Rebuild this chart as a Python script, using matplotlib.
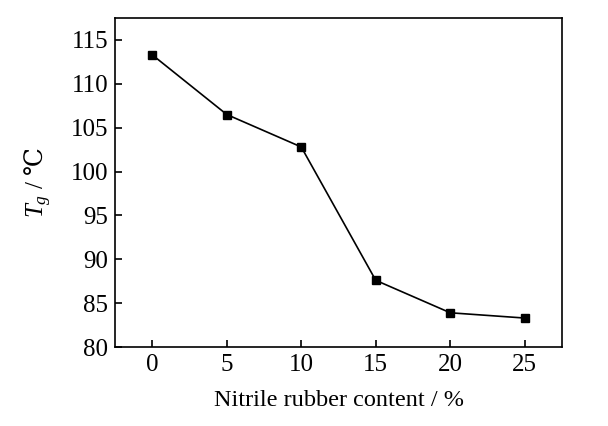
import matplotlib
matplotlib.use("Agg")
import matplotlib.pyplot as plt

# Nitrile rubber content (%) vs glass transition temperature (°C)
content = [0, 5, 10, 15, 20, 25]
tg = [113.3, 106.5, 102.8, 87.6, 83.9, 83.3]
xticks = [0, 5, 10, 15, 20, 25]
yticks = [80, 85, 90, 95, 100, 105, 110, 115]

plt.rcParams['font.family'] = ['Liberation Serif', 'DejaVu Serif']
plt.rcParams['mathtext.fontset'] = 'custom'
plt.rcParams['mathtext.it'] = 'Liberation Serif:italic'
plt.rcParams['mathtext.rm'] = 'Liberation Serif'
plt.rcParams['mathtext.sf'] = 'DejaVu Serif'  # only used for the degree-C sign

fig = plt.figure(figsize=(6.08, 4.26), dpi=100)
ax = fig.add_axes([115 / 608, 1 - 347 / 426, (562 - 115) / 608, (347 - 18) / 426])

ax.plot(content, tg, color='black', lw=1.2, marker='s', ms=6,
        markerfacecolor='black', markeredgecolor='black')

ax.set_xlim(-2.5, 27.5)
ax.set_ylim(80, 117.5)
ax.set_xticks(xticks)
ax.set_yticks(yticks)
ax.tick_params(direction='in', length=5, width=1.2, labelsize=18, pad=5)
for s in ax.spines.values():
    s.set_linewidth(1.2)

ax.set_xlabel('Nitrile rubber content / %', fontsize=17.5, labelpad=10)
ax.set_ylabel(r'$T_g$ / $\mathsf{℃}$', fontsize=18, labelpad=12)

fig.savefig('out.png', dpi=100)
